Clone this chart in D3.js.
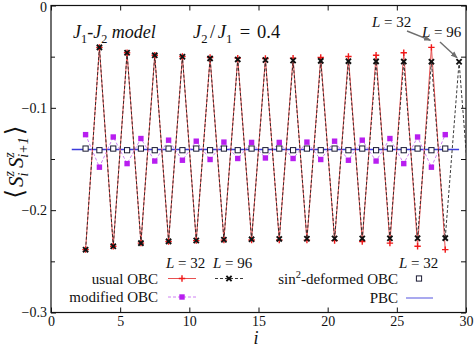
<!DOCTYPE html>
<html>
<head>
<meta charset="utf-8">
<script src="https://cdn.jsdelivr.net/npm/d3@7"></script>
<style>
  body { margin: 0; background: #fff; }
  svg { display: block; }
  text { font-family: "Liberation Serif", "Times New Roman", serif; fill: #111; }
</style>
</head>
<body>
<svg id="chart" width="474" height="348"></svg>
<script>
// Bond positions (i + 1/2) and nearest-neighbour correlations <S^z_i S^z_{i+1}>
const bondsL32 = [2.5, 3.5, 4.5, 5.5, 6.5, 7.5, 8.5, 9.5, 10.5, 11.5, 12.5, 13.5, 14.5, 15.5,
                  16.5, 17.5, 18.5, 19.5, 20.5, 21.5, 22.5, 23.5, 24.5, 25.5, 26.5, 27.5, 28.5];
const bondsL96 = [2.5, 3.5, 4.5, 5.5, 6.5, 7.5, 8.5, 9.5, 10.5, 11.5, 12.5, 13.5, 14.5, 15.5,
                  16.5, 17.5, 18.5, 19.5, 20.5, 21.5, 22.5, 23.5, 24.5, 25.5, 26.5, 27.5, 28.5,
                  29.5, 30.5];

const usualL32 = [-0.2386, -0.0409, -0.2353, -0.0462, -0.2322, -0.0486, -0.2306, -0.0498, -0.2298,
                  -0.0508, -0.2293, -0.0514, -0.2291, -0.0518, -0.2291, -0.0514, -0.2293, -0.0508,
                  -0.2298, -0.0498, -0.2306, -0.0486, -0.2322, -0.0462, -0.2353, -0.0409, -0.2386];
const usualL96 = [-0.2386, -0.0409, -0.2353, -0.0462, -0.2322, -0.0487, -0.2305, -0.0501, -0.2296,
                  -0.0517, -0.2289, -0.0527, -0.2285, -0.0533, -0.2281, -0.0537, -0.2279, -0.0541,
                  -0.2277, -0.0544, -0.2276, -0.0546, -0.2275, -0.0548, -0.2274, -0.0549, -0.2273,
                  -0.0550, -0.2272];
const modifiedL32 = [-0.1262, -0.1580, -0.1285, -0.1545, -0.1300, -0.1520, -0.1316, -0.1512, -0.1326,
                     -0.1505, -0.1335, -0.1495, -0.1338, -0.1490, -0.1338, -0.1495, -0.1335, -0.1505,
                     -0.1326, -0.1512, -0.1316, -0.1520, -0.1300, -0.1545, -0.1285, -0.1580, -0.1262];
const sin2L32 = [-0.1398, -0.1414, -0.1398, -0.1414, -0.1398, -0.1414, -0.1398, -0.1414, -0.1398,
                 -0.1414, -0.1398, -0.1414, -0.1398, -0.1414, -0.1398, -0.1414, -0.1398, -0.1414,
                 -0.1398, -0.1414, -0.1398, -0.1414, -0.1398, -0.1414, -0.1398, -0.1414, -0.1398];
const pbcBonds = [1.5, 29.5];
const pbcValues = [-0.1407, -0.1407];

const xTicks = [0, 5, 10, 15, 20, 25, 30];
const yTicks = [0, -0.1, -0.2, -0.3];
const yMinorTicks = [-0.05, -0.15, -0.25];

const COLORS = { usual32: "#f01818", usual96: "#111111", modified: "#b81ef0",
                 sin2: "#1a1a33", pbc: "#3c3cdc", arrow: "#6e6e6e" };

const svg = d3.select("#chart");
const M = { left: 51, right: 466, top: 5.5, bottom: 312.5 };
const x = d3.scaleLinear().domain([0, 30]).range([M.left, M.right]);
const y = d3.scaleLinear().domain([-0.3, 0]).range([M.bottom, M.top]);

const defs = svg.append("defs");
defs.append("clipPath").attr("id", "plot-clip")
  .append("rect").attr("x", M.left).attr("y", M.top)
  .attr("width", M.right - M.left).attr("height", M.bottom - M.top);
defs.append("marker").attr("id", "arrowhead")
  .attr("viewBox", "0 0 10 10").attr("refX", 9).attr("refY", 5)
  .attr("markerWidth", 7).attr("markerHeight", 7).attr("orient", "auto")
  .attr("markerUnits", "userSpaceOnUse")
  .append("path").attr("d", "M0,1 L10,5 L0,9 Z").attr("fill", COLORS.arrow);

// ---- axes (ticks pointing inwards on all four sides) ----
const yFmt = d => d === 0 ? "0" : d3.format(".1f")(d);
function styleAxis(g) {
  g.select(".domain").remove();
  g.selectAll(".tick line").attr("stroke", "#111").attr("stroke-width", 1);
  g.selectAll(".tick text").attr("font-size", 14)
    .attr("font-family", "'Liberation Serif', 'Times New Roman', serif").attr("fill", "#111");
}
svg.append("g").attr("transform", `translate(0,${M.bottom})`)
  .call(d3.axisBottom(x).tickValues(xTicks).tickSizeInner(-5).tickSizeOuter(0).tickPadding(4))
  .call(styleAxis);
svg.append("g").attr("transform", `translate(0,${M.top})`)
  .call(d3.axisTop(x).tickValues(xTicks).tickSizeInner(-5).tickSizeOuter(0).tickFormat(""))
  .call(styleAxis);
const yAxisG = svg.append("g").attr("transform", `translate(${M.left},0)`)
  .call(d3.axisLeft(y).tickValues(yTicks).tickSizeInner(-5).tickSizeOuter(0).tickPadding(4).tickFormat(yFmt))
  .call(styleAxis);
// keep the top "0" label inside the page
yAxisG.selectAll(".tick text").filter(d => d === 0).attr("dy", "0.45em");
svg.append("g").attr("transform", `translate(${M.left},0)`)
  .call(d3.axisLeft(y).tickValues(yMinorTicks).tickSizeInner(-4).tickSizeOuter(0).tickFormat(""))
  .call(styleAxis);
svg.append("g").attr("transform", `translate(${M.right},0)`)
  .call(d3.axisRight(y).tickValues(yTicks.concat(yMinorTicks)).tickSizeInner(-5).tickSizeOuter(0).tickFormat(""))
  .call(styleAxis);

svg.append("rect").attr("x", M.left).attr("y", M.top)
  .attr("width", M.right - M.left).attr("height", M.bottom - M.top)
  .attr("fill", "none").attr("stroke", "#111").attr("stroke-width", 1.2);

// ---- marker shapes ----
function plus(g, cx, cy, color) {
  g.append("path").attr("d", `M${cx - 3.2},${cy}H${cx + 3.2}M${cx},${cy - 3.2}V${cy + 3.2}`)
    .attr("stroke", color).attr("stroke-width", 1.4).attr("fill", "none");
}
function cross(g, cx, cy, color) {
  const r = 2.6;
  g.append("path").attr("d", `M${cx - r},${cy - r}L${cx + r},${cy + r}M${cx - r},${cy + r}L${cx + r},${cy - r}`)
    .attr("stroke", color).attr("stroke-width", 1.9).attr("fill", "none");
}
function filledSquare(g, cx, cy, color) {
  g.append("rect").attr("x", cx - 2.7).attr("y", cy - 2.7).attr("width", 5.4).attr("height", 5.4)
    .attr("fill", color);
}
function openSquare(g, cx, cy, color) {
  g.append("rect").attr("x", cx - 2.6).attr("y", cy - 2.6).attr("width", 5.2).attr("height", 5.2)
    .attr("fill", "#fff").attr("stroke", color).attr("stroke-width", 1);
}

const plot = svg.append("g").attr("clip-path", "url(#plot-clip)");
const line = d3.line().x(d => x(d[0])).y(d => y(d[1]));
const zip = (a, b) => a.map((v, k) => [v, b[k]]);

// PBC reference
plot.append("path").datum(zip(pbcBonds, pbcValues)).attr("d", line)
  .attr("fill", "none").attr("stroke", COLORS.pbc).attr("stroke-width", 1.3);

// modified OBC, L = 32
const modPts = zip(bondsL32, modifiedL32);
plot.append("path").datum(modPts).attr("d", line).attr("fill", "none")
  .attr("stroke", "#c873f0").attr("stroke-width", 0.9).attr("stroke-dasharray", "3,2");
modPts.forEach(p => filledSquare(plot, x(p[0]), y(p[1]), COLORS.modified));

// sin^2-deformed OBC, L = 32
zip(bondsL32, sin2L32).forEach(p => openSquare(plot, x(p[0]), y(p[1]), COLORS.sin2));

// usual OBC, L = 32 and L = 96
const u32 = zip(bondsL32, usualL32);
const u96 = zip(bondsL96, usualL96);
plot.append("path").datum(u32).attr("d", line).attr("fill", "none")
  .attr("stroke", "#e85050").attr("stroke-width", 1);
plot.append("path").datum(u96).attr("d", line).attr("fill", "none")
  .attr("stroke", "#222").attr("stroke-width", 0.9).attr("stroke-dasharray", "3,2");
u32.forEach(p => plus(plot, x(p[0]), y(p[1]), COLORS.usual32));
u96.forEach(p => cross(plot, x(p[0]), y(p[1]), COLORS.usual96));

// ---- rich text helper: parts with italic / sub / sup ----
function rich(parent, px, py, anchor, size, parts) {
  const t = parent.append("text").attr("x", px).attr("y", py)
    .attr("text-anchor", anchor).attr("font-size", size);
  let shift = 0;
  parts.forEach(p => {
    const target = p.sub ? size * 0.28 : p.sup ? -size * 0.38 : 0;
    const ts = t.append("tspan").text(p.t)
      .attr("font-size", (p.sub || p.sup) ? size * (p.scale || 0.68) : size)
      .attr("font-style", p.it ? "italic" : "normal");
    if (target !== shift) { ts.attr("dy", target - shift); shift = target; }
    if (p.dx) ts.attr("dx", p.dx);
  });
  return t;
}

// title
rich(svg, 73, 38, "start", 18, [
  { t: "J", it: true }, { t: "1", sub: true }, { t: "-", it: false }, { t: "J", it: true },
  { t: "2", sub: true }, { t: " model", it: true }
]);
rich(svg, 193, 38, "start", 18.5, [
  { t: "J", it: true }, { t: "2", sub: true }, { t: "/", dx: 2.5 }, { t: "J", it: true, dx: 2.5 },
  { t: "1", sub: true }, { t: "=", dx: 7.5 }, { t: "0.4", dx: 7 }
]);

// axis titles
rich(svg, 256, 344, "middle", 18, [{ t: "i", it: true }]);

const yl = svg.append("g").attr("transform", "translate(23,161) rotate(-90)");
const ylt = yl.append("text").attr("x", 0).attr("y", 0).attr("font-size", 21);
ylt.append("tspan").text("\u27E8").attr("font-size", 25).attr("font-family", "'DejaVu Serif', serif");
ylt.append("tspan").text("S").attr("font-style", "italic").attr("dx", 2);
const sup1 = ylt.append("tspan").text("z").attr("font-size", 14).attr("font-style", "italic").attr("dy", -9);
const w1 = sup1.node().getComputedTextLength();
const sub1 = ylt.append("tspan").text("i").attr("font-size", 14).attr("font-style", "italic")
  .attr("dx", -w1).attr("dy", 14);
const wi = sub1.node().getComputedTextLength();
ylt.append("tspan").text("S").attr("font-style", "italic").attr("dy", -5).attr("dx", Math.max(0, w1 - wi) + 3);
const sup2 = ylt.append("tspan").text("z").attr("font-size", 14).attr("font-style", "italic").attr("dy", -9);
const w2 = sup2.node().getComputedTextLength();
ylt.append("tspan").text("i+1").attr("font-size", 14).attr("font-style", "italic")
  .attr("dx", -w2).attr("dy", 14);
ylt.append("tspan").text("\u27E9").attr("font-size", 25).attr("font-family", "'DejaVu Serif', serif")
  .attr("dy", -5).attr("dx", 2);
const ylw = ylt.node().getComputedTextLength();
ylt.attr("x", -ylw / 2);

// size annotations with arrows
rich(svg, 372, 27, "start", 15, [{ t: "L", it: true }, { t: " = 32" }]);
rich(svg, 422, 37, "start", 15, [{ t: "L", it: true }, { t: " = 96" }]);
svg.append("line").attr("x1", 407).attr("y1", 31).attr("x2", x(27.5) - 1).attr("y2", y(-0.0409) - 7)
  .attr("stroke", COLORS.arrow).attr("stroke-width", 1.4).attr("marker-end", "url(#arrowhead)");
svg.append("line").attr("x1", 440).attr("y1", 42).attr("x2", x(29.5) - 2).attr("y2", y(-0.0550) - 4)
  .attr("stroke", COLORS.arrow).attr("stroke-width", 1.4).attr("marker-end", "url(#arrowhead)");

// ---- legend ----
const lg = svg.append("g");
const row1 = 278.5, row2 = 297;
rich(lg, 166, 268, "start", 15, [{ t: "L", it: true }, { t: " = 32" }]);
rich(lg, 213, 268, "start", 15, [{ t: "L", it: true }, { t: " = 96" }]);
rich(lg, 158, row1 + 5, "end", 15, [{ t: "usual OBC" }]);
rich(lg, 158, row2 + 5, "end", 15, [{ t: "modified OBC" }]);
lg.append("line").attr("x1", 168).attr("x2", 196).attr("y1", row1).attr("y2", row1)
  .attr("stroke", "#e85050").attr("stroke-width", 1);
plus(lg, 182, row1, COLORS.usual32);
lg.append("line").attr("x1", 215).attr("x2", 243).attr("y1", row1).attr("y2", row1)
  .attr("stroke", "#222").attr("stroke-width", 0.9).attr("stroke-dasharray", "3,2");
cross(lg, 229, row1, COLORS.usual96);
lg.append("line").attr("x1", 168).attr("x2", 196).attr("y1", row2).attr("y2", row2)
  .attr("stroke", "#c873f0").attr("stroke-width", 0.9).attr("stroke-dasharray", "3,2");
filledSquare(lg, 182, row2, COLORS.modified);

rich(lg, 399, 268, "start", 15, [{ t: "L", it: true }, { t: " = 32" }]);
rich(lg, 398, row1 + 5, "end", 15, [{ t: "sin" }, { t: "2", sup: true, scale: 0.7 }, { t: "-deformed OBC" }]);
openSquare(lg, 419, row1, COLORS.sin2);
rich(lg, 398, row2 + 6, "end", 15, [{ t: "PBC" }]);
lg.append("line").attr("x1", 406).attr("x2", 433).attr("y1", row2 + 1).attr("y2", row2 + 1)
  .attr("stroke", "#7a7ae6").attr("stroke-width", 1.3);
</script>
</body>
</html>
